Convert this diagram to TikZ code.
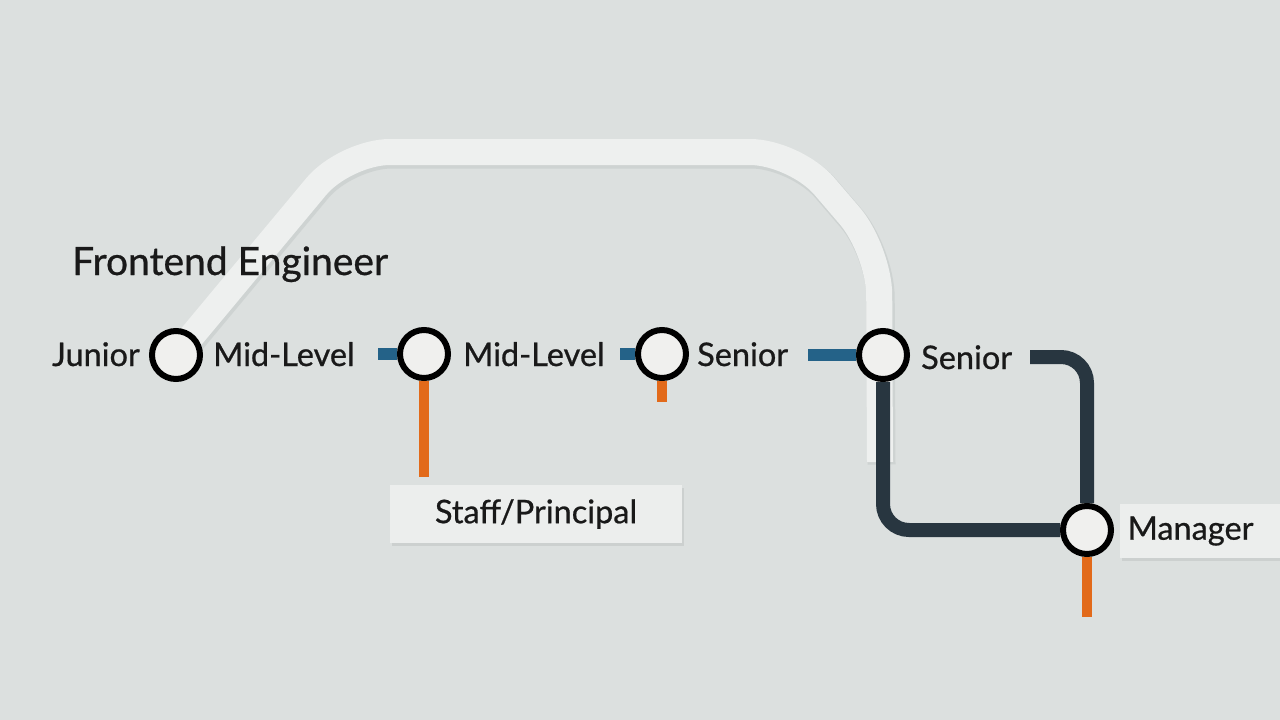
\documentclass[tikz,border=0pt]{standalone}
\usepackage{fontspec}
\setmainfont{Lato}
\newfontfamily\lblfont{Lato}[FakeBold=0.7]
\definecolor{bgc}{RGB}{220,224,223}
\definecolor{lightpath}{RGB}{238,240,239}
\definecolor{lightshadow}{RGB}{206,211,210}
\definecolor{steel}{RGB}{36,98,136}
\definecolor{slate}{RGB}{40,54,64}
\definecolor{trackorange}{RGB}{226,106,26}
\definecolor{stationfill}{RGB}{240,240,238}
\definecolor{boxfill}{RGB}{236,238,237}
\pgfdeclarelayer{back}
\pgfsetlayers{back,main}
\tikzset{
  station/.style={circle, draw=black, line width=6pt, fill=stationfill, minimum size=48pt, inner sep=0pt},
  lbl/.style={inner sep=0pt, font=\lblfont\fontsize{32.5}{36}\selectfont, text=black!90},
  ttl/.style={inner sep=0pt, font=\lblfont\fontsize{39}{44}\selectfont, text=black!90},
  lblbox/.style={lbl, fill=boxfill, preaction={fill=black, opacity=0.07, transform canvas={xshift=2pt,yshift=-3pt}}},
  lighttrack/.style={draw=lightpath, line width=26pt, rounded corners=45pt, line cap=butt},
  lightshade/.style={draw=lightshadow, line width=28pt, rounded corners=45pt, line cap=butt, transform canvas={xshift=1.5pt,yshift=-2.5pt}},
  bluetrack/.style={draw=steel, line width=12pt},
  slatetrack/.style={draw=slate, line width=14pt, rounded corners=26pt},
  orangetrack/.style={draw=trackorange, line width=10pt}
}
\begin{document}
\begin{tikzpicture}[x=1pt,y=-1pt]
\useasboundingbox (0,0) rectangle (1280,720);

% stations
\node[station] (jr) at (176,355) {};
\node[station] (ml) at (424,354) {};
\node[station] (ml2) at (662,354) {};
\node[station] (sr) at (883,355) {};
\node[station] (mg) at (1087,530) {};

% labels
\node[ttl, anchor=base west] (title) at (72,275) {Frontend Engineer};
\node[lbl, anchor=base east] (tjr) at (140,366) {Junior};
\node[lbl, anchor=base west] (tml) at (213,366) {Mid-Level};
\node[lbl, anchor=base west] (tml2) at (463,366) {Mid-Level};
\node[lbl, anchor=base west] (tsr) at (697,366) {Senior};
\node[lbl, anchor=base west] (tsr2) at (921,369) {Senior};
\node[lblbox, minimum width=292pt, minimum height=58pt] (staff) at (536,514) {Staff/Principal};
\node[lblbox, anchor=west, minimum width=175pt, minimum height=54pt, text width=160pt, inner xsep=6pt, align=left] (tmg) at (1120,531) {Manager};

% free ends
\coordinate (lightend) at (880,462);
\coordinate (b1) at (378,354);
\coordinate (b2) at (620,354);
\coordinate (b3) at (808,355);
\coordinate (d1) at (1030,357);
\coordinate (o1) at (424,477);
\coordinate (o2) at (662,402);
\coordinate (o3) at (1087,617);

\begin{pgfonlayer}{back}
  \fill[bgc] (0,0) rectangle (1280,720);
  \draw[lightshade] (jr.center) -- (345,152) -- (795,152) -- (879,250) -- (lightend);
  \draw[lighttrack] (jr.center) -- (345,152) -- (795,152) -- (879,250) -- (lightend);
  \draw[bluetrack] (b1) -- (ml);
  \draw[bluetrack] (b2) -- (ml2);
  \draw[bluetrack] (b3) -- (sr);
  \draw[slatetrack] (d1) -- (mg |- d1) -- (mg);
  \draw[slatetrack] (sr) -- (sr |- mg) -- (mg);
  \draw[orangetrack] (ml) -- (o1);
  \draw[orangetrack] (ml2) -- (o2);
  \draw[orangetrack] (mg) -- (o3);
\end{pgfonlayer}
\end{tikzpicture}
\end{document}
